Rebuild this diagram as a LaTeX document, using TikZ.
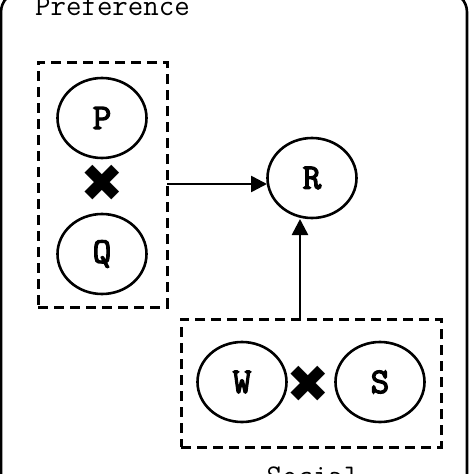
\documentclass[tikz,border=0pt]{standalone}
\usepackage{fontspec}
\newfontfamily\symfont{DejaVu Sans}
\newfontfamily\lmboldtt[FakeBold=3.5]{Latin Modern Mono}
\usetikzlibrary{arrows.meta,shapes.geometric}
\begin{document}
\begin{tikzpicture}[x=1pt,y=-1pt,
  var/.style={draw,line width=2.6pt,ellipse,minimum width=89pt,minimum height=80pt,inner sep=0pt,font=\lmboldtt\fontsize{36}{36}\selectfont},
  groupbox/.style={draw,line width=3pt,dash pattern=on 10pt off 6pt},
  cross/.style={inner sep=0pt,font=\symfont\fontsize{52}{52}\selectfont},
  conn/.style={line width=2.6pt,-{Triangle[length=16pt,width=16pt]}},
  title/.style={font=\ttfamily\fontsize{30}{30}\selectfont,inner sep=0pt}]
\useasboundingbox (0,0) rectangle (474,474);
\clip (0,0) rectangle (474,474);
\draw[line width=2.6pt,rounded corners=20pt] (1,-8) rectangle (467,500);
\node[title,anchor=base west] (pref) at (35,15) {Preference};
\node[title,anchor=base] (soc) at (313,485) {Social};
\node[groupbox,minimum width=129pt,minimum height=245pt,inner sep=0pt] (left) at (102.5,184.5) {};
\node[groupbox,minimum width=260pt,minimum height=128pt,inner sep=0pt] (bottom) at (311,383) {};
\node[var] (P) at (102,118) {P};
\node[var] (Q) at (102,254) {Q};
\node[cross] (x1) at (102,183) {✖};
\node[var] (R) at (312,178) {R};
\node[var] (W) at (242,382) {W};
\node[var] (S) at (380,382) {S};
\node[cross] (x2) at (308,384) {✖};
\coordinate (a1) at (167,184);
\coordinate (a2) at (267,184);
\coordinate (b1) at (300,319);
\coordinate (b2) at (300,219);
\draw[conn] (a1) -- (a2);
\draw[conn] (b1) -- (b2);
\end{tikzpicture}
\end{document}
